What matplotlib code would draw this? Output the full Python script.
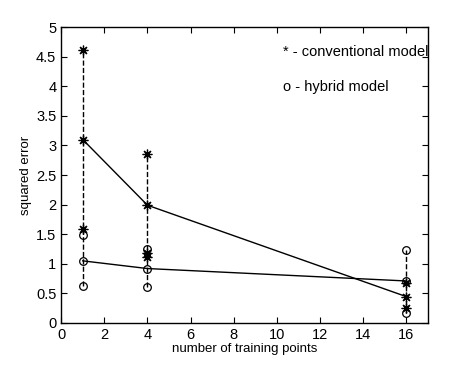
import matplotlib
matplotlib.use("Agg")
import matplotlib.pyplot as plt

plt.rcParams["font.family"] = ["Liberation Sans", "DejaVu Sans"]

# training set sizes
n_points = [1, 4, 16]

# conventional model: individual runs and mean
conv_runs = [[4.62, 3.10, 1.58], [2.85, 1.99, 1.18, 1.12], [0.67, 0.445, 0.25]]
conv_mean = [3.10, 1.99, 0.445]

# hybrid model: individual runs and mean
hyb_runs = [[1.49, 1.05, 0.625], [1.245, 0.92, 0.60], [1.23, 0.71, 0.165]]
hyb_mean = [1.05, 0.92, 0.71]

fig = plt.figure(figsize=(4.74, 3.66), dpi=100)
ax = fig.add_axes([0.129, 0.1175, 0.774, 0.8085])

# dashed spread line at each x
for x, c, h in zip(n_points, conv_runs, hyb_runs):
    vals = c + h
    ax.plot([x, x], [min(vals), max(vals)], "k--", lw=1.0)

ax.plot(n_points, conv_mean, "k-", lw=1.0)
ax.plot(n_points, hyb_mean, "k-", lw=1.0)

for x, c, h in zip(n_points, conv_runs, hyb_runs):
    ax.plot([x] * len(c), c, ls="none", marker=(8, 2, 0), ms=7, mew=0.9, color="k")
    ax.plot([x] * len(h), h, ls="none", marker="o", ms=5.5, mew=0.9,
            mfc="none", mec="k")

ax.text(10.3, 4.58, "* - conventional model", fontsize=10.5, va="center", clip_on=True)
ax.text(10.3, 3.99, "o - hybrid model", fontsize=10.5, va="center", clip_on=True)

ax.set_xlim(0, 17)
ax.set_ylim(0, 5)
ax.set_xticks(range(0, 17, 2))
ax.set_yticks([0, 0.5, 1, 1.5, 2, 2.5, 3, 3.5, 4, 4.5, 5])
ax.set_yticklabels(["0", "0.5", "1", "1.5", "2", "2.5", "3", "3.5", "4", "4.5", "5"])
ax.tick_params(direction="in", top=True, right=True, labelsize=10.5, length=4, width=0.8)
ax.set_xlabel("number of training points", fontsize=9.5, labelpad=1)
ax.set_ylabel("squared error", fontsize=9.5, labelpad=3)
for s in ax.spines.values():
    s.set_linewidth(1.0)

fig.savefig("out.png", dpi=100)
